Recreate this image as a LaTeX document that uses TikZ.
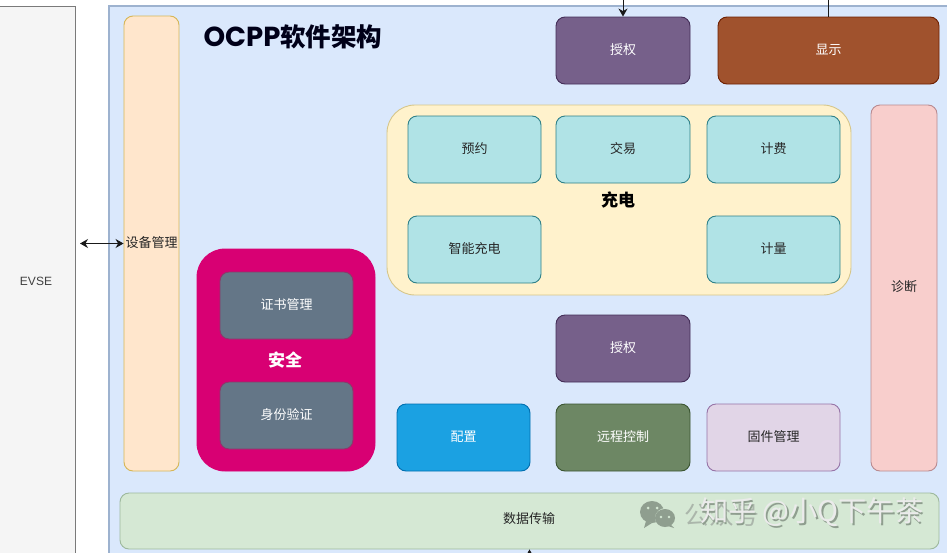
\documentclass[tikz,border=0pt]{standalone}
\usepackage{fontspec}
\setmainfont{Liberation Sans}
\newfontfamily\cjk{Noto Sans CJK SC}
\newfontfamily\pop{Poppins}
\usetikzlibrary{arrows.meta,calc}
\definecolor{evsef}{HTML}{F5F5F5}\definecolor{evses}{HTML}{7A7A7A}
\definecolor{mainf}{HTML}{DAE8FC}\definecolor{mains}{HTML}{9DB2CF}
\definecolor{devf}{HTML}{FFE6CC}\definecolor{devs}{HTML}{D6B656}
\definecolor{purf}{HTML}{76608A}\definecolor{purs}{HTML}{432D57}
\definecolor{brnf}{HTML}{A0522D}\definecolor{brns}{HTML}{6D1F00}
\definecolor{yelf}{HTML}{FFF2CC}\definecolor{yels}{HTML}{D6C68A}
\definecolor{redf}{HTML}{F8CECC}\definecolor{reds}{HTML}{B88A90}
\definecolor{tealf}{HTML}{B0E3E6}\definecolor{teals}{HTML}{2E8088}
\definecolor{secf}{HTML}{D80073}
\definecolor{slaf}{HTML}{647687}\definecolor{slas}{HTML}{8A3A6A}
\definecolor{bluf}{HTML}{1BA1E2}\definecolor{blus}{HTML}{006EAF}
\definecolor{grnf}{HTML}{6D8764}\definecolor{grns}{HTML}{3A5431}
\definecolor{lilf}{HTML}{E1D5E7}\definecolor{lils}{HTML}{9673A6}
\definecolor{ltgf}{HTML}{D5E8D4}\definecolor{ltgs}{HTML}{9DB89C}
\definecolor{wmark}{HTML}{8F9E8F}
\tikzset{
  base/.style={rectangle,draw,line width=.9pt,rounded corners=#1,inner sep=0pt,align=center,text height=10pt,text depth=2.5pt,font=\cjk\fontsize{13}{14}\selectfont},
  base/.default=9pt,
  plain/.style={base,text=black!85},
  purple/.style={base,fill=purf,draw=purs,text=white},
  teal/.style={base,fill=tealf,draw=teals,text=black!85},
  slate/.style={base,fill=slaf,draw=slas,text=white},
  conn/.style={line width=1pt,draw=black!90},
  tip/.style={-{Stealth[length=8pt,width=9pt]}},
  head/.style={font=\cjk\bfseries\fontsize{17}{20}\selectfont},
  wm/.style={inner sep=0pt,anchor=west},
}
\begin{document}
\begin{tikzpicture}[x=1pt,y=-1pt]
\useasboundingbox (0,0) rectangle (947,552);
\clip (0,0) rectangle (947,552);
\fill[white] (0,0) rectangle (947,552);
% containers
\node[base=0pt,fill=evsef,draw=evses,minimum width=100pt,minimum height=560pt] (evse) at (25.5,286) {};
\node[font=\fontsize{12}{14}\selectfont,text=black!75,inner sep=0pt] (evselabel) at (36,281) {EVSE};
\node[base=0pt,fill=mainf,draw=mains,line width=1.2pt,minimum width=860pt,minimum height=560pt] (main) at (539,286) {};
\node[font=\cjk\bfseries\fontsize{25.5}{28}\selectfont,text=black!90!blue,inner sep=0pt] (title) at (293,37) {{\pop\bfseries\fontsize{27.5}{28}\selectfont OCPP}软件架构};
\node[plain,fill=devf,draw=devs,minimum width=55pt,minimum height=455pt] (dev) at (151.5,243.5) {设备管理};
\node[purple,minimum width=134pt,minimum height=67pt] (auth1) at (623,50.5) {授权};
\node[base,fill=brnf,draw=brns,text=white,minimum width=221pt,minimum height=67pt] (disp) at (828.5,50.5) {显示};
\node[base=28pt,fill=yelf,draw=yels,minimum width=464pt,minimum height=190pt] (chg) at (619,200) {};
\node[head,text=black,inner sep=0pt] (chglabel) at (618,200) {充电};
\node[plain,fill=redf,draw=reds,minimum width=66pt,minimum height=366pt] (diag) at (904,288) {诊断};
\node[teal,minimum width=133pt,minimum height=67pt] (t1) at (474.5,149.5) {预约};
\node[teal,minimum width=134pt,minimum height=67pt] (t2) at (623,149.5) {交易};
\node[teal,minimum width=133pt,minimum height=67pt] (t3) at (773.5,149.5) {计费};
\node[teal,minimum width=133pt,minimum height=67pt] (t4) at (474.5,249.5) {智能充电};
\node[teal,minimum width=133pt,minimum height=67pt] (t5) at (773.5,249.5) {计量};
\node[base=28pt,fill=secf,draw=secf,minimum width=178pt,minimum height=222pt] (sec) at (286,360) {};
\node[slate,minimum width=133pt,minimum height=67pt] (cert) at (286.5,305.5) {证书管理};
\node[head,text=white,inner sep=0pt] (seclabel) at (285,360) {安全};
\node[slate,minimum width=133pt,minimum height=67pt] (idv) at (286.5,415.5) {身份验证};
\node[purple,minimum width=134pt,minimum height=67pt] (auth2) at (623,348.5) {授权};
\node[base,fill=bluf,draw=blus,text=white,minimum width=133pt,minimum height=67pt] (cfg) at (463.5,437.5) {配置};
\node[base,fill=grnf,draw=grns,text=white,minimum width=134pt,minimum height=67pt] (rem) at (623,437.5) {远程控制};
\node[plain,fill=lilf,draw=lils,minimum width=133pt,minimum height=67pt] (fw) at (773.5,437.5) {固件管理};
\node[plain,fill=ltgf,draw=ltgs,minimum width=819pt,minimum height=56pt] (data) at (529.5,521) {};
\node[font=\cjk\fontsize{13}{14}\selectfont,text=black!85,inner sep=0pt] (datalabel) at (529,519) {数据传输};
% connectors
\coordinate (a1top) at (auth1.north |- 0,-3);
\coordinate (disptop) at (828,-3);
\coordinate (evsearr) at (80,243.5);
\coordinate (databot) at (529.5,560);
\draw[conn,tip] (a1top) -- (auth1.north);
\draw[conn] (disptop) -- (disp.north -| disptop);
\draw[conn,{Stealth[length=8pt,width=9pt]}-{Stealth[length=8pt,width=9pt]}] (evsearr) -- (dev.west |- evsearr);
\draw[conn,tip] (databot) -- (data.south -| databot);
% watermark
\fill[wmark] (652,512) ellipse (12pt and 11pt);
\fill[wmark] (646,521) -- (644,528) -- (652,523) -- cycle;
\fill[ltgf] (666,518) ellipse (11pt and 10pt);
\fill[wmark] (665,518) ellipse (10pt and 9pt);
\fill[wmark] (670,524) -- (674,528) -- (668,526) -- cycle;
\fill[ltgf] (648,508) circle (1.5pt) (657,508) circle (1.5pt) (661,517) circle (1.3pt) (669,517) circle (1.3pt);
\node[wm,font=\cjk\fontsize{25}{28}\selectfont,text=wmark!75] (wm1) at (684,515) {公众号};
\node[wm,font=\cjk\fontsize{28.2}{30}\selectfont,text=wmark] (wm2s) at (701.5,514) {知乎 @小Q下午茶};
\node[wm,font=\cjk\fontsize{28.2}{30}\selectfont,text=white!92!black] (wm2) at (700,512.5) {知乎 @小Q下午茶};
\end{tikzpicture}
\end{document}
